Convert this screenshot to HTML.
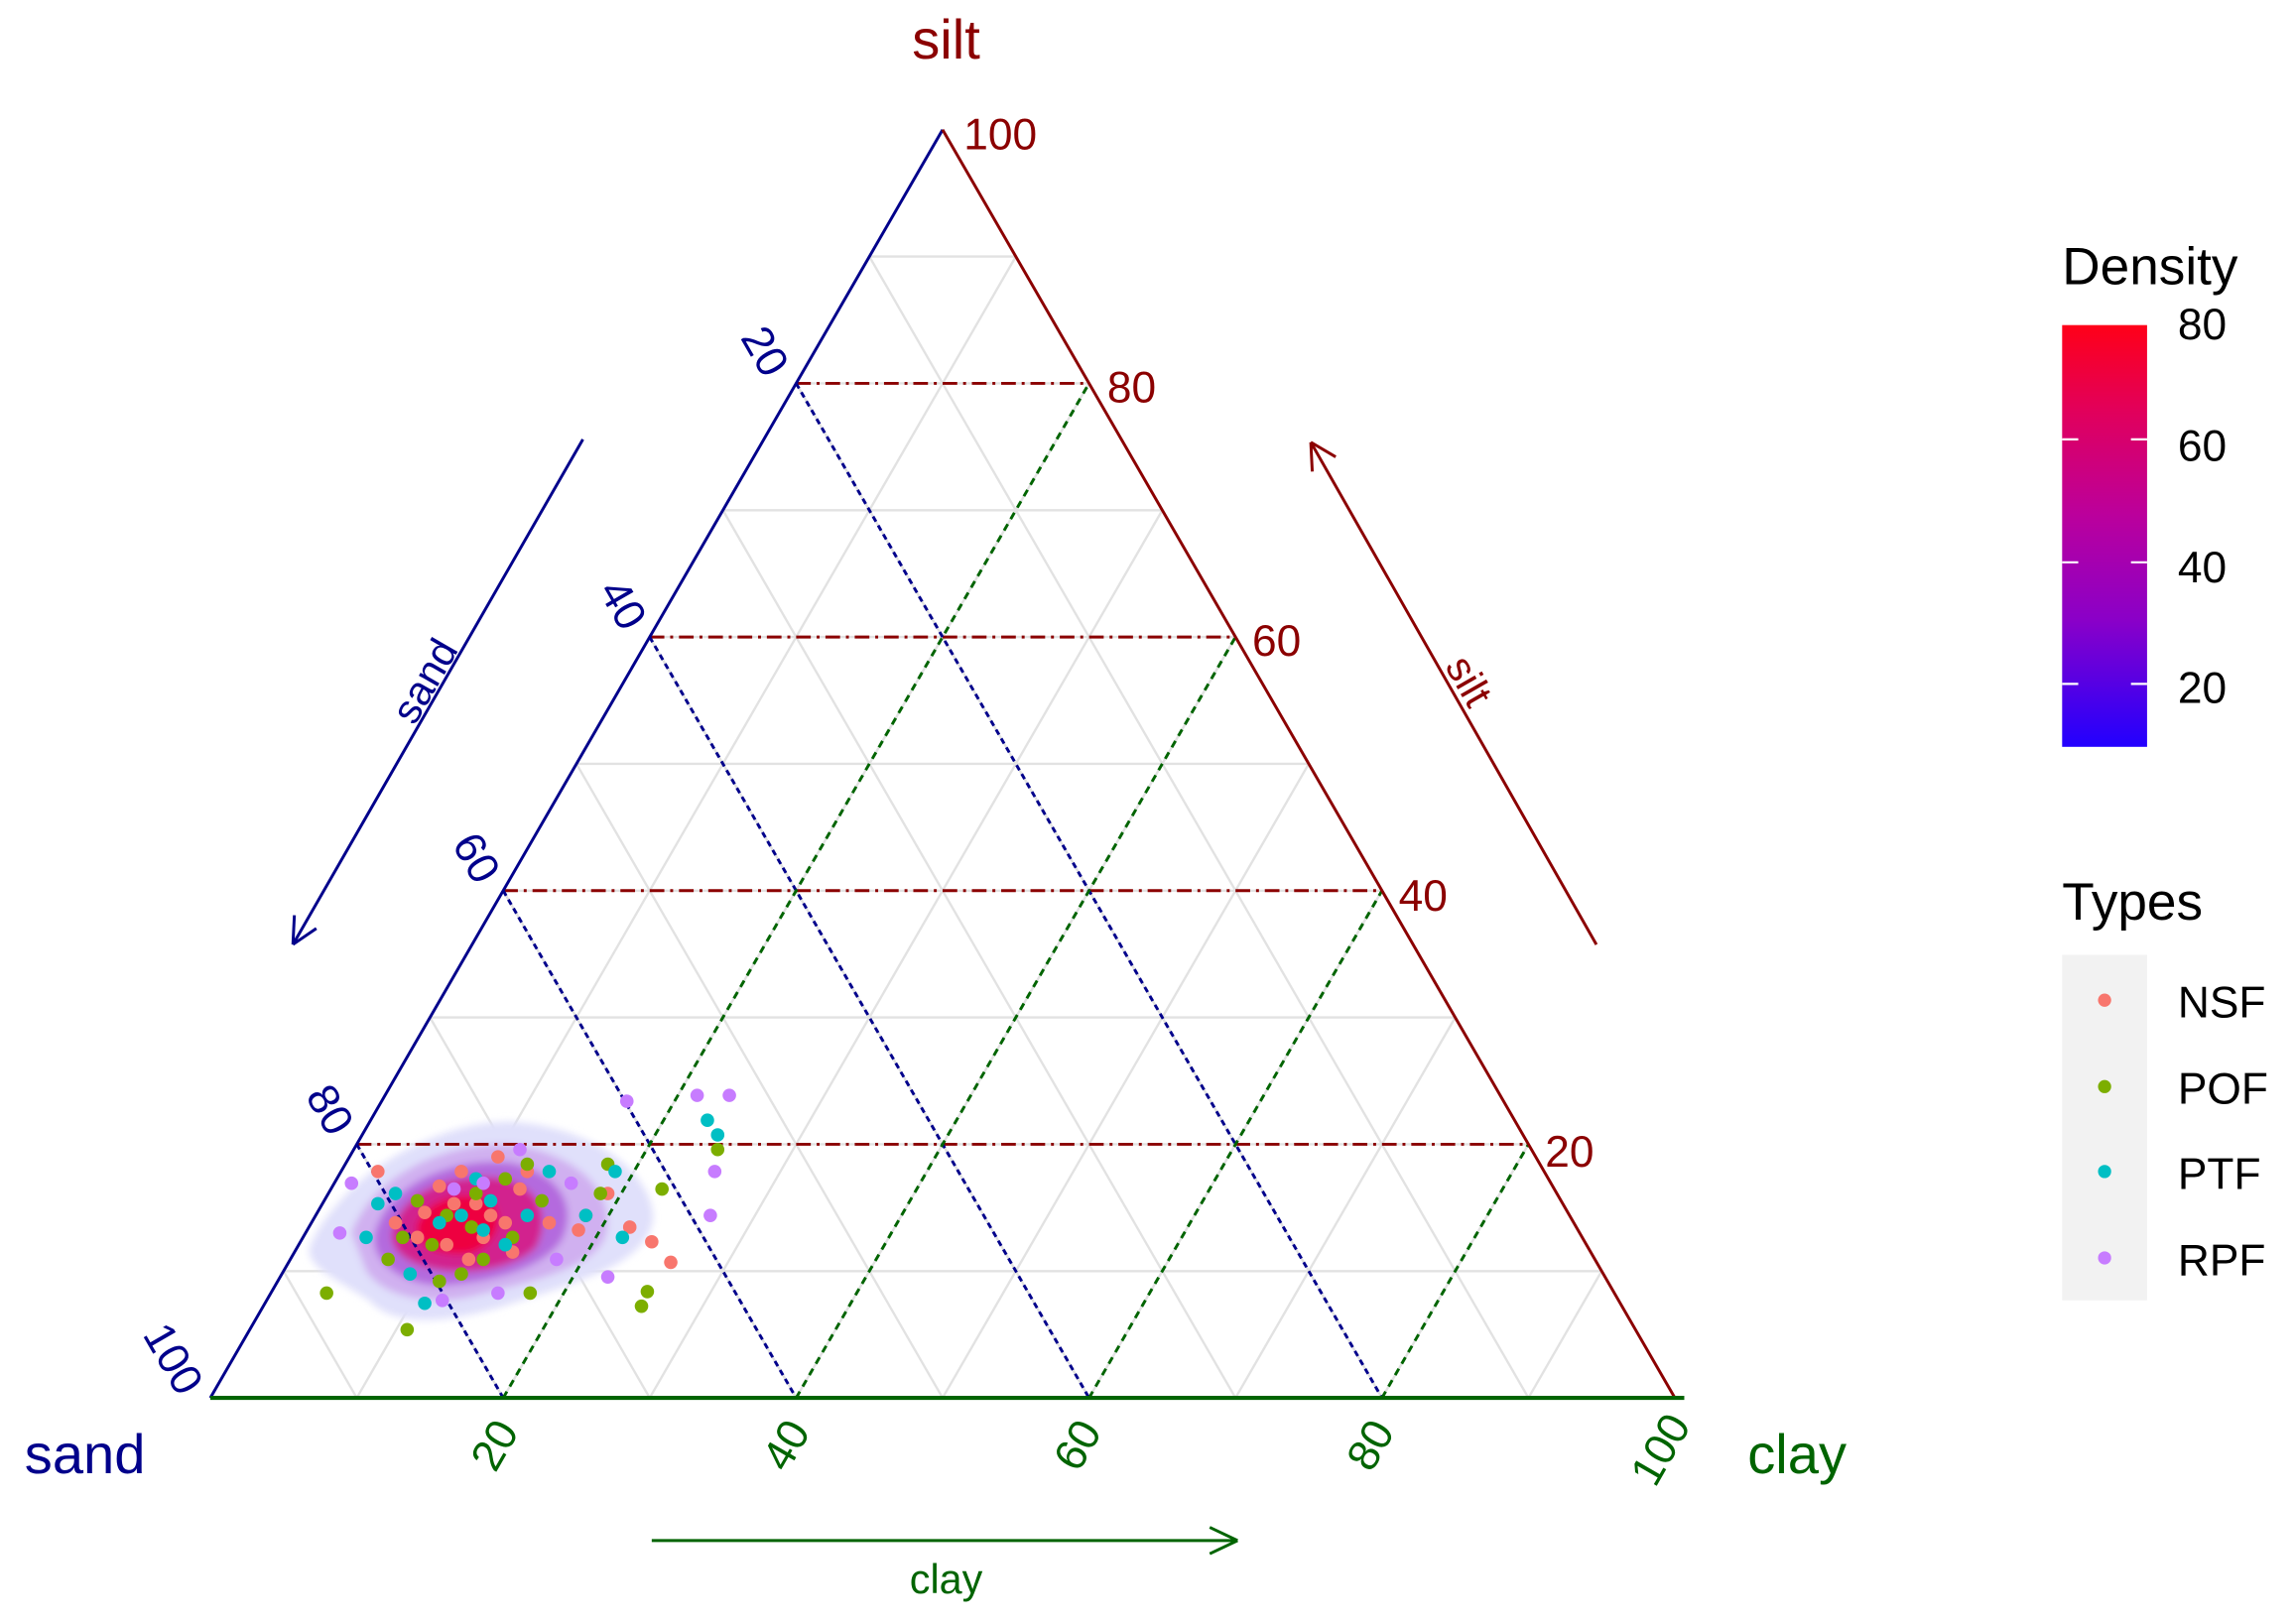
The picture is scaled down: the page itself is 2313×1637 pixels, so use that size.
<!DOCTYPE html>
<html><head><meta charset="utf-8"><style>html,body{margin:0;padding:0;background:#fff}svg{display:block}</style></head><body>
<svg width="2313" height="1637" viewBox="0 0 1567 1109" preserveAspectRatio="none" xmlns="http://www.w3.org/2000/svg" font-family="Liberation Sans, sans-serif">
<defs>
<linearGradient id="cb" x1="0" y1="1" x2="0" y2="0">
<stop offset="0" stop-color="#2200ff"/><stop offset="0.3" stop-color="#8a00c8"/><stop offset="0.55" stop-color="#bb009c"/><stop offset="0.8" stop-color="#e2005a"/><stop offset="1" stop-color="#ff0018"/>
</linearGradient>
<filter id="bl"><feGaussianBlur stdDeviation="2.5"/></filter>
</defs>
<rect width="1567" height="1109" fill="#fff"/>
<g stroke="#e2e2e2" stroke-width="1.6" fill="none">
<path d="M193.6,868 L1093.6,868 M243.6,781.4 L1043.6,781.4 M293.6,694.8 L993.6,694.8 M343.6,608.2 L943.6,608.2 M393.6,521.6 L893.6,521.6 M443.6,435 L843.6,435 M493.6,348.4 L793.6,348.4 M543.6,261.8 L743.6,261.8 M593.6,175.2 L693.6,175.2"/>
<path d="M243.6,954.6 L193.6,868 M343.6,954.6 L243.6,781.4 M443.6,954.6 L293.6,694.8 M543.6,954.6 L343.6,608.2 M643.6,954.6 L393.6,521.6 M743.6,954.6 L443.6,435 M843.6,954.6 L493.6,348.4 M943.6,954.6 L543.6,261.8 M1043.6,954.6 L593.6,175.2"/>
<path d="M243.6,954.6 L693.6,175.2 M343.6,954.6 L743.6,261.8 M443.6,954.6 L793.6,348.4 M543.6,954.6 L843.6,435 M643.6,954.6 L893.6,521.6 M743.6,954.6 L943.6,608.2 M843.6,954.6 L993.6,694.8 M943.6,954.6 L1043.6,781.4 M1043.6,954.6 L1093.6,868"/>
</g>
<g filter="url(#bl)">
<path d="M212,850 C235,800 300,765 350,766 C405,770 445,800 446,832 C442,862 400,874 350,890 C310,903 270,908 252,888 C232,875 206,864 212,850Z" fill="#e0e0fb"/>
<path d="M240,842 C255,800 310,778 352,782 C392,788 420,812 414,842 C408,866 365,874 328,884 C295,893 262,886 250,868 Z" fill="#d0b0f0"/>
<path d="M256,842 C265,808 310,790 348,794 C380,800 395,822 384,846 C372,866 335,876 302,878 C276,878 252,862 256,842Z" fill="#b46ade"/>
<path d="M268,840 C276,810 315,800 344,805 C370,812 376,832 366,852 C352,866 318,872 294,866 C276,862 265,852 268,840Z" fill="#d2208e"/>
<path d="M285,836 C292,818 318,812 334,820 C346,830 340,850 320,856 C300,858 282,850 285,836Z" fill="#ee0040"/>
</g>
<g fill="none" stroke-width="2">
<path d="M243.6,781.4 L1043.6,781.4 M343.6,608.2 L943.6,608.2 M443.6,435 L843.6,435 M543.6,261.8 L743.6,261.8" stroke="#8b0000" stroke-dasharray="10,4,2,4"/>
<path d="M243.6,781.4 L343.6,954.6 M343.6,608.2 L543.6,954.6 M443.6,435 L743.6,954.6 M543.6,261.8 L943.6,954.6" stroke="#00008b" stroke-dasharray="4,3"/>
<path d="M343.6,954.6 L743.6,261.8 M543.6,954.6 L843.6,435 M743.6,954.6 L943.6,608.2 M943.6,954.6 L1043.6,781.4" stroke="#006400" stroke-dasharray="5,4"/>
</g>
<line x1="143.6" y1="954.6" x2="643.6" y2="88.6" stroke="#00008b" stroke-width="2"/>
<line x1="643.6" y1="88.6" x2="1143.6" y2="954.6" stroke="#8b0000" stroke-width="2"/>
<line x1="143.6" y1="954.6" x2="1150" y2="954.6" stroke="#006400" stroke-width="2.8"/>
<g>
<g fill="#f8766d"><circle cx="258" cy="800" r="4.6"/><circle cx="290" cy="828" r="4.6"/><circle cx="300" cy="810" r="4.6"/><circle cx="315" cy="800" r="4.6"/><circle cx="325" cy="822" r="4.6"/><circle cx="340" cy="790" r="4.6"/><circle cx="355" cy="812" r="4.6"/><circle cx="360" cy="800" r="4.6"/><circle cx="345" cy="835" r="4.6"/><circle cx="305" cy="850" r="4.6"/><circle cx="320" cy="860" r="4.6"/><circle cx="395" cy="840" r="4.6"/><circle cx="415" cy="815" r="4.6"/><circle cx="430" cy="838" r="4.6"/><circle cx="445" cy="848" r="4.6"/><circle cx="458" cy="862" r="4.6"/><circle cx="400" cy="830" r="4.6"/><circle cx="375" cy="835" r="4.6"/><circle cx="330" cy="845" r="4.6"/><circle cx="285" cy="845" r="4.6"/><circle cx="270" cy="835" r="4.6"/><circle cx="350" cy="855" r="4.6"/><circle cx="310" cy="822" r="4.6"/><circle cx="335" cy="830" r="4.6"/></g>
<g fill="#7cae00"><circle cx="223" cy="883" r="4.6"/><circle cx="278" cy="908" r="4.6"/><circle cx="265" cy="860" r="4.6"/><circle cx="275" cy="845" r="4.6"/><circle cx="295" cy="850" r="4.6"/><circle cx="305" cy="830" r="4.6"/><circle cx="325" cy="815" r="4.6"/><circle cx="345" cy="805" r="4.6"/><circle cx="360" cy="795" r="4.6"/><circle cx="370" cy="820" r="4.6"/><circle cx="350" cy="845" r="4.6"/><circle cx="330" cy="860" r="4.6"/><circle cx="315" cy="870" r="4.6"/><circle cx="300" cy="875" r="4.6"/><circle cx="362" cy="883" r="4.6"/><circle cx="415" cy="795" r="4.6"/><circle cx="438" cy="892" r="4.6"/><circle cx="442" cy="882" r="4.6"/><circle cx="452" cy="812" r="4.6"/><circle cx="490" cy="785" r="4.6"/><circle cx="410" cy="815" r="4.6"/><circle cx="285" cy="820" r="4.6"/><circle cx="322" cy="838" r="4.6"/></g>
<g fill="#00bfc4"><circle cx="250" cy="845" r="4.6"/><circle cx="258" cy="822" r="4.6"/><circle cx="280" cy="870" r="4.6"/><circle cx="290" cy="890" r="4.6"/><circle cx="300" cy="835" r="4.6"/><circle cx="315" cy="830" r="4.6"/><circle cx="325" cy="805" r="4.6"/><circle cx="335" cy="820" r="4.6"/><circle cx="345" cy="850" r="4.6"/><circle cx="360" cy="830" r="4.6"/><circle cx="375" cy="800" r="4.6"/><circle cx="400" cy="830" r="4.6"/><circle cx="420" cy="800" r="4.6"/><circle cx="425" cy="845" r="4.6"/><circle cx="483" cy="765" r="4.6"/><circle cx="490" cy="775" r="4.6"/><circle cx="270" cy="815" r="4.6"/><circle cx="330" cy="840" r="4.6"/></g>
<g fill="#c77cff"><circle cx="240" cy="808" r="4.6"/><circle cx="232" cy="842" r="4.6"/><circle cx="428" cy="752" r="4.6"/><circle cx="476" cy="748" r="4.6"/><circle cx="498" cy="748" r="4.6"/><circle cx="488" cy="800" r="4.6"/><circle cx="485" cy="830" r="4.6"/><circle cx="415" cy="872" r="4.6"/><circle cx="340" cy="883" r="4.6"/><circle cx="302" cy="888" r="4.6"/><circle cx="380" cy="860" r="4.6"/><circle cx="330" cy="808" r="4.6"/><circle cx="355" cy="785" r="4.6"/><circle cx="310" cy="812" r="4.6"/><circle cx="390" cy="808" r="4.6"/></g>
</g>
<g fill="#8b0000" font-size="30" dominant-baseline="central">
<text x="658" y="92">100</text><text x="756" y="265">80</text><text x="855" y="438">60</text><text x="955" y="612">40</text><text x="1055" y="787">20</text>
</g>
<g fill="#00008b" font-size="30" text-anchor="middle" dominant-baseline="central">
<text transform="translate(522,240) rotate(60)">20</text>
<text transform="translate(425,413) rotate(60)">40</text>
<text transform="translate(325,586) rotate(60)">60</text>
<text transform="translate(225,758) rotate(60)">80</text>
<text transform="translate(118,928) rotate(60)">100</text>
</g>
<g fill="#006400" font-size="30" text-anchor="middle" dominant-baseline="central">
<text transform="translate(338,987) rotate(-60)">20</text>
<text transform="translate(537,987) rotate(-60)">40</text>
<text transform="translate(736,987) rotate(-60)">60</text>
<text transform="translate(936,987) rotate(-60)">80</text>
<text transform="translate(1134,990) rotate(-60)">100</text>
</g>
<text x="646" y="40" font-size="38" fill="#8b0000" text-anchor="middle">silt</text>
<text x="58" y="1006" font-size="38" fill="#00008b" text-anchor="middle">sand</text>
<text x="1227" y="1006" font-size="38" fill="#006400" text-anchor="middle">clay</text>
<g fill="none" stroke-width="2">
<path d="M398,300 L200,645 M200,645 L201,625 M200,645 L216,634" stroke="#00008b"/>
<path d="M1090,645 L895,302 M895,302 L896,322 M895,302 L912,312" stroke="#8b0000"/>
<path d="M445,1052 L845,1052 M845,1052 L826,1043 M845,1052 L826,1061" stroke="#006400"/>
</g>
<text transform="translate(290,465) rotate(-60)" font-size="28" fill="#00008b" text-anchor="middle" dominant-baseline="central">sand</text>
<text transform="translate(1003,465) rotate(60)" font-size="28" fill="#8b0000" text-anchor="middle" dominant-baseline="central">silt</text>
<text x="646" y="1088" font-size="28" fill="#006400" text-anchor="middle">clay</text>
<text x="1408" y="194" font-size="36" fill="#000">Density</text>
<rect x="1408" y="222" width="58" height="288" fill="url(#cb)"/>
<g stroke="#fff" stroke-width="1.5"><path d="M1408,300 h11 M1455,300 h11 M1408,384 h11 M1455,384 h11 M1408,467 h11 M1455,467 h11"/></g>
<g font-size="30" fill="#000" dominant-baseline="central"><text x="1487" y="222">80</text><text x="1487" y="305">60</text><text x="1487" y="388">40</text><text x="1487" y="470">20</text></g>
<text x="1408" y="628" font-size="36" fill="#000">Types</text>
<rect x="1408" y="652" width="58" height="236" fill="#f2f2f2"/>
<circle cx="1437" cy="683" r="4.5" fill="#f8766d"/><circle cx="1437" cy="742" r="4.5" fill="#7cae00"/><circle cx="1437" cy="800" r="4.5" fill="#00bfc4"/><circle cx="1437" cy="859" r="4.5" fill="#c77cff"/>
<g font-size="30" fill="#000" dominant-baseline="central"><text x="1487" y="685">NSF</text><text x="1487" y="744">POF</text><text x="1487" y="802">PTF</text><text x="1487" y="861">RPF</text></g>
</svg>
</body></html>
